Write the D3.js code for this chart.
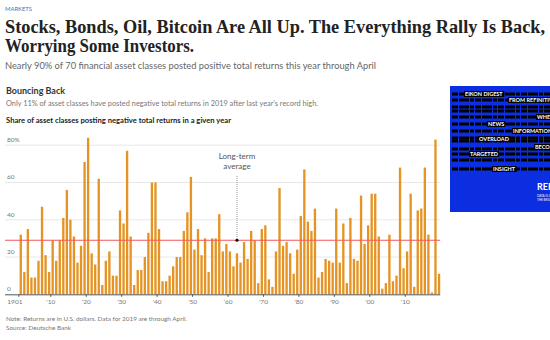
<!DOCTYPE html>
<html>
<head>
<meta charset="utf-8">
<script src="https://cdn.jsdelivr.net/npm/d3@7"></script>
<style>
  body { margin: 0; background: #fff; }
  svg { display: block; font-family: Lato, "Open Sans", sans-serif; }
</style>
</head>
<body>
<svg id="chart" width="550" height="340"></svg>
<script>
(function () {
    // share of asset classes with negative total returns, 1901-2019 (%)
    const years = d3.range(1901, 2020);
    const negativeShare = [
        32, 12, 35, 9, 9, 18, 47, 21, 12, 29,
        18, 29, 41, 56, 40, 31, 17, 26, 71, 84,
        22, 16, 62, 5, 18, 23, 10, 10, 45, 38,
        77, 31, 5, 13, 13, 20, 33, 60, 60, 35,
        7, 7, 10, 15, 20, 20, 34, 44, 63, 24,
        35, 21, 30, 12, 30, 30, 43, 23, 27, 23,
        15, 22, 17, 28, 19, 34, 29, 6, 35, 37,
        8, 4, 23, 57, 26, 28, 22, 11, 24, 42,
        67, 39, 34, 46, 9, 12, 19, 18, 17, 46,
        17, 38, 6, 41, 19, 18, 53, 27, 37, 54,
        54, 31, 3, 6, 32, 7, 10, 68, 14, 23,
        54, 4, 45, 46, 68, 32, 1, 83, 11
    ];
    const yTicks = [0, 20, 40, 60, 80];
    const xTickYears = [1901, 1910, 1920, 1930, 1940, 1950, 1960, 1970, 1980, 1990, 2000, 2010];
    const longTermAverage = 29;
    const annotationYear = 1962;

    // promo panel lines on the right
    const adLines = [
        { text: "EIKON DIGEST", x: 465, y: 96 },
        { text: "FROM REFINITIV", x: 509, y: 102 },
        { text: "WHERE", x: 537, y: 119 },
        { text: "NEWS", x: 488, y: 126 },
        { text: "INFORMATION", x: 513, y: 133 },
        { text: "OVERLOAD", x: 479, y: 141 },
        { text: "BECOMES", x: 535, y: 149 },
        { text: "TARGETED", x: 470, y: 156 },
        { text: "INSIGHT", x: 493, y: 171 }
    ];
    const adStripes = [94, 100, 107, 111, 117, 124, 131, 138, 141, 149, 154, 160, 169];

    const svg = d3.select("#chart");

    // helper for fixed-width text lines
    function label(parent, x, y, str, size, opts) {
        opts = opts || {};
        const t = parent.append("text")
            .attr("x", x).attr("y", y)
            .attr("font-size", size)
            .attr("fill", opts.fill || "#333")
            .attr("font-weight", opts.weight || "normal")
            .attr("font-family", opts.family || null)
            .attr("text-anchor", opts.anchor || "start")
            .text(str);
        if (opts.width) {
            t.attr("textLength", opts.width).attr("lengthAdjust", "spacingAndGlyphs");
        }
        return t;
    }

    // header
    label(svg, 5, 11, "MARKETS", 6.5, { fill: "#2b7bc0", width: 27 });
    const serif = "'Liberation Serif', 'DejaVu Serif', serif";
    label(svg, 5, 33, "Stocks, Bonds, Oil, Bitcoin Are All Up. The Everything Rally Is Back,", 19,
        { weight: "bold", family: serif, fill: "#222", width: 540 });
    label(svg, 5, 52, "Worrying Some Investors.", 19,
        { weight: "bold", family: serif, fill: "#222", width: 189 });
    label(svg, 5, 69, "Nearly 90% of 70 financial asset classes posted positive total returns this year through April", 9.5,
        { fill: "#666", width: 371 });

    label(svg, 6, 94, "Bouncing Back", 9, { weight: "bold", fill: "#333", width: 59 });
    label(svg, 6, 106, "Only 11% of asset classes have posted negative total returns in 2019 after last year\u2019s record high.", 7.5,
        { fill: "#777", width: 312 });
    label(svg, 6, 123, "Share of asset classes posting negative total returns in a given year", 7.5,
        { weight: "bold", fill: "#222", width: 225 });

    // scales: each year occupies [x(y), x(y+1)]
    const x = d3.scaleLinear().domain([1901, 2020]).range([18.4, 440.2]);
    const y = d3.scaleLinear().domain([0, 80]).range([294.3, 145.2]);
    const step = x(1902) - x(1901);
    const left = 5, right = x(2020);

    // gridlines and y labels
    svg.append("g")
        .selectAll("line")
        .data(yTicks.filter(d => d > 0))
        .enter()
        .append("line")
        .attr("x1", left).attr("x2", right)
        .attr("y1", d => y(d)).attr("y2", d => y(d))
        .attr("stroke", "#e8e8e8")
        .attr("stroke-width", 1);

    svg.append("g")
        .selectAll("text")
        .data(yTicks)
        .enter()
        .append("text")
        .attr("x", 7)
        .attr("y", d => y(d) - 3)
        .attr("font-size", 6.5)
        .attr("fill", "#777")
        .text(d => d === 80 ? "80%" : d);

    // bars
    svg.append("g")
        .selectAll("rect")
        .data(years)
        .enter()
        .append("rect")
        .attr("x", (d) => x(d) + 1.2)
        .attr("width", step * 0.66)
        .attr("y", (d, i) => y(negativeShare[i]))
        .attr("height", (d, i) => y(0) - y(negativeShare[i]))
        .attr("fill", "#e59424");

    // long-term average line
    svg.append("line")
        .attr("x1", left).attr("x2", right)
        .attr("y1", y(longTermAverage)).attr("y2", y(longTermAverage))
        .attr("stroke", "#f05a5e")
        .attr("stroke-width", 1);

    // baseline axis with year ticks
    const axis = svg.append("g")
        .attr("transform", `translate(0, ${y(0)})`)
        .call(d3.axisBottom(x)
            .tickValues(xTickYears)
            .tickSize(2.5)
            .tickSizeOuter(0)
            .tickFormat(d => d === 1901 ? "1901" : "'" + String(d % 100).padStart(2, "0")));
    axis.select(".domain").attr("d", `M${left},0.5H${right}`).attr("stroke", "#555");
    axis.selectAll(".tick line").attr("stroke", "#555");
    axis.selectAll(".tick text")
        .attr("font-size", 6.5)
        .attr("fill", "#777")
        .attr("font-family", "Lato, 'Open Sans', sans-serif")
        .attr("y", 5)
        .attr("dx", d => d === 1901 ? -4 : 0);

    // annotation
    const ax = x(annotationYear) + 1.2 + step * 0.33;
    svg.append("line")
        .attr("x1", ax).attr("x2", ax)
        .attr("y1", 176).attr("y2", y(longTermAverage))
        .attr("stroke", "#999")
        .attr("stroke-width", 1)
        .attr("stroke-dasharray", "1,1");
    svg.append("circle")
        .attr("cx", ax).attr("cy", y(longTermAverage))
        .attr("r", 1.6)
        .attr("fill", "#111");
    label(svg, ax, 159, "Long-term", 8, { fill: "#555", anchor: "middle" });
    label(svg, ax, 169, "average", 8, { fill: "#555", anchor: "middle" });

    // footnotes
    label(svg, 6, 321, "Note: Returns are in U.S. dollars. Data for 2019 are through April.", 6.5,
        { fill: "#777", width: 181 });
    label(svg, 6, 330, "Source: Deutsche Bank", 6.5, { fill: "#777", width: 65 });

    // promo panel, clipped at the window edge
    svg.append("clipPath").attr("id", "adClip")
        .append("rect")
        .attr("x", 450).attr("y", 86)
        .attr("width", 100).attr("height", 126);
    const ad = svg.append("g").attr("clip-path", "url(#adClip)");
    ad.append("rect")
        .attr("x", 450).attr("y", 86)
        .attr("width", 100).attr("height", 126)
        .attr("fill", "#0b2ee0");
    ad.selectAll("line")
        .data(adStripes)
        .enter()
        .append("line")
        .attr("x1", 452).attr("x2", 550)
        .attr("y1", d => d).attr("y2", d => d)
        .attr("stroke", "#000")
        .attr("stroke-width", 3)
        .attr("stroke-dasharray", "6,1,10,1,4,1");
    adLines.forEach(l => {
        const t = label(ad, l.x, l.y, l.text, 5.5, { weight: "bold", fill: "#fff" });
        const bb = t.node().getBBox();
        ad.insert("rect", () => t.node())
            .attr("x", bb.x - 1).attr("y", bb.y)
            .attr("width", bb.width + 2).attr("height", bb.height)
            .attr("fill", "#000");
    });
    label(ad, 537, 190, "REFINITIV", 9, { weight: "bold", fill: "#fff" });
    label(ad, 537, 197, "DATA IS JUST", 3, { fill: "#fff" });
    label(ad, 537, 201, "THE BEGINNING", 3, { fill: "#fff" });
})();
</script>
</body>
</html>
